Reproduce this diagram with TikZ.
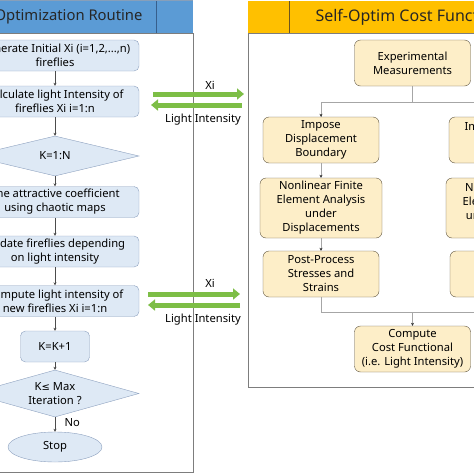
\documentclass[tikz,border=0pt]{standalone}
\usepackage{fontspec}
\setmainfont{Noto Sans}
\newfontfamily\symfont{DejaVu Sans}
\usepackage{tikz}
\usetikzlibrary{shapes.geometric, arrows.meta}
\definecolor{hdrblue}{RGB}{91, 155, 213}
\definecolor{hdrline}{RGB}{55, 95, 140}
\definecolor{hdrgold}{RGB}{255, 192, 0}
\definecolor{goldline}{RGB}{110, 85, 30}
\definecolor{boxblue}{RGB}{222, 233, 245}
\definecolor{edgeblue}{RGB}{140, 160, 190}
\definecolor{boxcream}{RGB}{253, 238, 200}
\definecolor{edgecream}{RGB}{95, 85, 65}
\definecolor{flowgreen}{RGB}{125, 190, 70}
\definecolor{panel}{RGB}{125, 125, 125}

\tikzset{
  optbox/.style={draw=edgeblue, fill=boxblue, rounded corners=5pt, align=center,
                 minimum width=168pt, minimum height=31pt, inner sep=1pt},
  optcheck/.style={draw=edgeblue, fill=boxblue, diamond, align=center,
                   minimum width=168pt, inner sep=1pt},
  costbox/.style={draw=edgecream, fill=boxcream, rounded corners=6pt, align=center,
                  minimum width=116pt, minimum height=46pt, inner sep=1pt},
  link/.style={draw=black!70, line width=0.5pt, -{Stealth[length=3pt, width=3pt]}},
  tree/.style={draw=black!35, line width=0.7pt},
  flow/.style={draw=flowgreen, line width=5pt, -{Triangle[length=7pt, width=11pt]}},
  title/.style={text=black!85}
}

\begin{document}
\begin{tikzpicture}[x=1pt, y=-1pt, font=\fontsize{11.2}{14}\selectfont]
  \clip (0, 0) rectangle (474, 474);
  \useasboundingbox (0, 0) rectangle (474, 474);

  % optimization routine
  \begin{scope}
    \draw[panel, line width=1pt] (-20, 33) rectangle (193, 472);
    \fill[hdrblue] (-20, 1) rectangle (193, 33);
    \draw[hdrline] (156, 1) -- (156, 33);
    \draw[hdrline!60] (-20, 0.5) -- (193, 0.5);
    \draw[panel] (-20, 33) -- (193, 33);
    \node[title, font=\fontsize{14.8}{17}\selectfont, anchor=east] (optTitle) at (146, 17)
         {Optimization Routine};

    \node[optbox] (init) at (55, 55.5) {Generate Initial Xi (i=1,2,...,n)\\fireflies};
    \node[optbox] (calc) at (55, 101.5) {Calculate light Intensity of\\fireflies Xi i=1:n};
    \node[optcheck, minimum height=40pt, shape aspect=4.2] (loop) at (55, 156) {K=1:N};
    \node[optbox] (coef) at (55, 202) {The attractive coefficient\\using chaotic maps};
    \node[optbox] (move) at (55, 251.5) {Update fireflies depending\\on light intensity};
    \node[optbox] (recalc) at (55, 301) {Compute light intensity of\\new fireflies Xi i=1:n};
    \node[optbox, minimum width=69pt] (incr) at (55, 346.5) {K=K+1};
    \node[optcheck, minimum height=47pt, shape aspect=3.6] (check) at (55, 393.5)
         {K{\symfont\fontsize{10}{14}\selectfont ≤} Max\\Iteration ?};
    \node[draw=edgeblue, fill=boxblue, ellipse, minimum width=94pt, minimum height=30pt,
          inner sep=0pt] (stop) at (55, 447) {Stop};

    \foreach \from/\to in {init/calc, calc/loop, loop/coef, coef/move,
                           move/recalc, recalc/incr, incr/check} {
      \draw[link] (\from) -- (\to);
    }
    \draw[link] (check) -- node[right, xshift=6pt, yshift=2pt] (no) {No} (stop);
  \end{scope}

  % self-optim cost function
  \begin{scope}
    \draw[panel, line width=1pt] (248, 33) rectangle (520, 387);
    \fill[hdrgold] (248, 1) rectangle (520, 33);
    \draw[goldline] (289, 1) -- (289, 33);
    \draw[panel] (248, 33) -- (520, 33);
    \node[title, font=\fontsize{16}{18}\selectfont, anchor=west] (costTitle) at (312, 17)
         {Self-Optim Cost Function};

    \node[costbox] (meas) at (412.5, 63) {Experimental\\Measurements};
    \node[costbox] (dispBC) at (321, 140) {Impose\\Displacement\\Boundary};
    \node[costbox, minimum width=122pt, minimum height=60pt] (dispFE) at (321, 208)
         {Nonlinear Finite\\Element Analysis\\under\\Displacements};
    \node[costbox] (dispPost) at (321, 274) {Post-Process\\Stresses and\\Strains};
    \node[costbox] (tracBC) at (507, 140) {Impose Traction\\Boundary\\\mbox{}};
    \node[costbox, minimum width=122pt, minimum height=60pt] (tracFE) at (507, 208)
         {Nonlinear Finite\\Element Analysis\\under Tractions\\\mbox{}};
    \node[costbox] (tracPost) at (508, 274) {Post-Process\\Stresses and\\Strains};
    \node[costbox] (cost) at (412.5, 349) {Compute\\Cost Functional\\(i.e. Light Intensity)};

    \coordinate (fork) at (412.5, 102);
    \coordinate (join) at (412.5, 312);
    \draw[tree] (meas) -- (fork);
    \draw[tree] (fork) -| (dispBC);
    \draw[tree] (fork) -| (tracBC);
    \draw[tree] (dispPost) |- (join);
    \draw[tree] (tracPost) |- (join);
    \foreach \from/\to in {dispFE/dispPost, tracFE/tracPost, dispBC/dispFE, tracBC/tracFE} {
      \draw[tree, -{Stealth[length=3pt, width=3pt, black!80]}] (\from) -- (\to);
    }
    \draw[tree, -{Stealth[length=3pt, width=3pt, black!80]}] (join) -- (cost);
    \draw[tree, -{Stealth[length=3pt, width=3pt, black!80]}] (dispBC.north) ++(0, -2) -- (dispBC.north);
    \draw[tree, -{Stealth[length=3pt, width=3pt, black!80]}] (tracBC.north) ++(0, -2) -- (tracBC.north);
  \end{scope}

  % exchange between the routines
  \coordinate (sendA) at (153, 94);
  \coordinate (recvA) at (244, 94);
  \coordinate (backA) at (242, 105);
  \coordinate (gotA) at (151, 105);
  \coordinate (sendB) at (148, 294);
  \coordinate (recvB) at (240, 294);
  \coordinate (backB) at (240, 305);
  \coordinate (gotB) at (148, 305);
  \draw[flow] (sendA) -- (recvA);
  \draw[flow] (backA) -- (gotA);
  \draw[flow] (sendB) -- (recvB);
  \draw[flow] (backB) -- (gotB);
  \node (xiA) at (210, 85) {Xi};
  \node (lightA) at (203, 120) {Light Intensity};
  \node (xiB) at (210, 283) {Xi};
  \node (lightB) at (203, 320) {Light Intensity};
\end{tikzpicture}
\end{document}
